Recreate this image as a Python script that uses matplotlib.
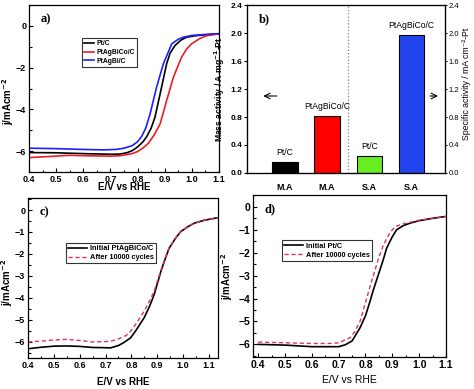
import matplotlib
matplotlib.use("Agg")
import matplotlib.pyplot as plt
from matplotlib.ticker import MultipleLocator

plt.rcParams['font.family'] = ['Liberation Sans', 'DejaVu Sans']
plt.rcParams['font.weight'] = 'bold'
plt.rcParams['axes.labelweight'] = 'bold'

# ---------------- data ----------------
# panel a
a_pt_x = [0.40, 0.50, 0.60, 0.70, 0.735, 0.76, 0.78, 0.80, 0.82, 0.834, 0.85, 0.864, 0.883, 0.907, 0.92, 0.938, 0.96, 0.981, 1.02, 1.06, 1.10]
a_pt_y = [-6.07, -6.08, -6.12, -6.15, -6.14, -6.08, -5.98, -5.80, -5.55, -5.30, -4.90, -4.38, -3.26, -1.82, -1.30, -0.94, -0.68, -0.54, -0.46, -0.42, -0.38]
a_co_x = [0.40, 0.50, 0.55, 0.60, 0.70, 0.735, 0.78, 0.80, 0.82, 0.84, 0.86, 0.883, 0.907, 0.932, 0.962, 0.98, 0.999, 1.03, 1.055, 1.08, 1.10]
a_co_y = [-6.31, -6.24, -6.20, -6.22, -6.24, -6.22, -6.12, -6.02, -5.85, -5.62, -5.25, -4.70, -3.58, -2.46, -1.50, -1.12, -0.86, -0.60, -0.47, -0.42, -0.38]
a_bi_x = [0.40, 0.50, 0.60, 0.674, 0.72, 0.75, 0.78, 0.80, 0.815, 0.83, 0.846, 0.87, 0.895, 0.926, 0.95, 0.969, 1.00, 1.05, 1.09, 1.10]
a_bi_y = [-5.86, -5.88, -5.92, -5.94, -5.92, -5.86, -5.74, -5.55, -5.30, -4.90, -4.22, -2.94, -1.82, -0.86, -0.64, -0.54, -0.46, -0.41, -0.38, -0.37]

# panel b
b_labels = ['M.A', 'M.A', 'S.A', 'S.A']
b_values = [0.16, 0.81, 0.24, 1.97]
b_names = ['Pt/C', 'PtAgBiCo/C', 'Pt/C', 'PtAgBiCo/C']
b_colors = ['#000000', '#ff0000', '#66ee22', '#2244ee']

# panel c
c_init_x = [0.40, 0.45, 0.50, 0.55, 0.60, 0.65, 0.70, 0.719, 0.75, 0.77, 0.797, 0.82, 0.849, 0.87, 0.888, 0.914, 0.93, 0.946, 0.97, 0.991, 1.02, 1.043, 1.08, 1.11, 1.135]
c_init_y = [-6.33, -6.26, -6.21, -6.20, -6.22, -6.27, -6.28, -6.29, -6.18, -6.05, -5.83, -5.45, -4.92, -4.40, -3.86, -2.80, -2.25, -1.74, -1.30, -0.98, -0.75, -0.60, -0.47, -0.40, -0.35]
c_aft_x = [0.40, 0.45, 0.50, 0.55, 0.60, 0.65, 0.70, 0.719, 0.75, 0.78, 0.797, 0.82, 0.849, 0.87, 0.888, 0.914, 0.93, 0.946, 0.97, 0.991, 1.02, 1.043, 1.08, 1.11, 1.135]
c_aft_y = [-6.02, -5.98, -5.93, -5.90, -5.95, -6.02, -6.00, -5.99, -5.88, -5.72, -5.53, -5.15, -4.62, -4.15, -3.70, -2.75, -2.22, -1.72, -1.29, -0.97, -0.75, -0.60, -0.47, -0.40, -0.35]

# panel d
d_init_x = [0.40, 0.50, 0.60, 0.668, 0.70, 0.724, 0.75, 0.78, 0.80, 0.817, 0.83, 0.848, 0.865, 0.879, 0.90, 0.916, 0.94, 0.966, 1.00, 1.05, 1.09, 1.10]
d_init_y = [-6.00, -6.03, -6.10, -6.10, -6.10, -6.02, -5.85, -5.27, -4.75, -4.12, -3.60, -2.96, -2.35, -1.80, -1.30, -1.00, -0.82, -0.71, -0.60, -0.50, -0.43, -0.42]
d_aft_x = [0.40, 0.50, 0.60, 0.668, 0.70, 0.743, 0.76, 0.78, 0.805, 0.82, 0.836, 0.85, 0.867, 0.89, 0.91, 0.94, 0.966, 1.00, 1.05, 1.10]
d_aft_y = [-5.90, -5.93, -5.96, -5.96, -5.93, -5.71, -5.45, -4.99, -3.97, -3.35, -2.74, -2.20, -1.65, -1.15, -0.86, -0.74, -0.67, -0.58, -0.49, -0.42]

# ---------------- layout ----------------
W, H = 474, 389
fig = plt.figure(figsize=(W / 100, H / 100), dpi=100)


def ax_px(l, r, t, b):
    return fig.add_axes([l / W, (H - b) / H, (r - l) / W, (b - t) / H])


FS = 6.5
XT = ['0.4', '0.5', '0.6', '0.7', '0.8', '0.9', '1.0', '1.1']
XV = [0.4, 0.5, 0.6, 0.7, 0.8, 0.9, 1.0, 1.1]
YLAB = 'j/mAcm$^{\\mathbf{-2}}$'


def style(ax):
    ax.tick_params(which='both', direction='in', labelsize=FS, width=0.8, pad=2)
    ax.tick_params(which='major', length=3)
    ax.tick_params(which='minor', length=1.8)
    for lab in ax.get_xticklabels() + ax.get_yticklabels():
        lab.set_fontweight('bold')
    for s in ax.spines.values():
        s.set_linewidth(0.9)


def panel_label(ax, t):
    ax.text(0.06, 0.95, t, transform=ax.transAxes, ha='left', va='top',
            fontsize=9, fontweight='bold', family=['Liberation Serif', 'DejaVu Serif'])


def make_legend(ax, anchor, hl, fs=5.3):
    leg = ax.legend(loc='upper left', bbox_to_anchor=anchor, fontsize=fs, frameon=True,
                    fancybox=False, edgecolor='black', handlelength=hl, handletextpad=0.3,
                    borderpad=0.3, labelspacing=0.25, borderaxespad=0)
    leg.get_frame().set_linewidth(0.8)
    for t in leg.get_texts():
        t.set_fontweight('bold')


# ---------- a ----------
ax = ax_px(29, 219, 5, 172)
ax.plot(a_pt_x, a_pt_y, color='black', lw=1.2, label='Pt/C')
ax.plot(a_co_x, a_co_y, color='#ee1c24', lw=1.2, label='PtAgBiCo/C')
ax.plot(a_bi_x, a_bi_y, color='#1f1fff', lw=1.2, label='PtAgBi/C')
ax.set_xlim(0.4, 1.1)
ax.set_ylim(-7, 1)
ax.set_xticks(XV)
ax.set_xticklabels(XT)
ax.xaxis.set_minor_locator(MultipleLocator(0.05))
ax.yaxis.set_major_locator(MultipleLocator(2))
ax.yaxis.set_minor_locator(MultipleLocator(1))
ax.set_xlabel('E/V vs RHE', fontsize=FS + 0.5, labelpad=-1)
ax.set_ylabel(YLAB, fontsize=FS + 0.5)
ax.yaxis.set_label_coords(-0.068, 0.42)
style(ax)
panel_label(ax, 'a)')
make_legend(ax, (0.28, 0.8), 1.5, fs=4.9)

# ---------- b ----------
ax = ax_px(247, 445, 5, 173)
pos = [1, 2, 3, 4]
ax.bar(pos, b_values, width=0.6, color=b_colors, edgecolor='black', linewidth=0.8)
for p, v, n in zip(pos, b_values, b_names):
    ax.text(p, v + 0.07, n, ha='center', va='bottom', fontsize=FS - 0.3, fontweight='normal')
ax.set_xlim(0.1, 4.8)
ax.set_ylim(0, 2.4)
ax.set_xticks(pos)
ax.set_xticklabels(b_labels)
ax.axvline(2.5, color='gray', ls=':', lw=0.9)
ax.set_yticks([0.0, 0.4, 0.8, 1.2, 1.6, 2.0, 2.4])
ax.tick_params(axis='y', direction='out', labelsize=FS - 0.5, length=2, pad=1.2)
ax.tick_params(axis='x', length=0, labelsize=FS, pad=7)
for lab in ax.get_xticklabels() + ax.get_yticklabels():
    lab.set_fontweight('bold')
ax.set_ylabel('Mass activity / A mg$^{\\mathbf{-1}}$-Pt', fontsize=FS - 0.3)
ax.yaxis.set_label_coords(-0.1, 0.5)
ax.annotate('', xy=(0.42, 1.1), xytext=(0.87, 1.1),
            arrowprops=dict(arrowstyle='->', color='black', lw=0.8))
ax.annotate('', xy=(4.7, 1.1), xytext=(4.38, 1.1),
            arrowprops=dict(arrowstyle='->', color='black', lw=0.8))
panel_label(ax, 'b)')
for s in ax.spines.values():
    s.set_linewidth(0.9)
ax2 = ax.twinx()
ax2.set_ylim(0, 2.4)
ax2.set_yticks([0.0, 0.4, 0.8, 1.2, 1.6, 2.0, 2.4])
ax2.tick_params(axis='y', direction='out', labelsize=FS - 1.0, length=1.5, pad=1)
for lab in ax2.get_yticklabels():
    lab.set_fontweight('normal')
ax2.set_ylabel('Specific activity / mA cm\u207b\u00b2-Pt', fontsize=FS - 0.2, fontweight='normal',
               family=['Liberation Sans', 'DejaVu Sans'])
ax2.yaxis.set_label_coords(1.088, 0.53)

# ---------- c ----------
ax = ax_px(28, 218, 198, 358)
ax.plot(c_init_x, c_init_y, color='black', lw=1.2, label='Initial PtAgBiCo/C')
ax.plot(c_aft_x, c_aft_y, color='#e0306a', lw=1.0, ls=(0, (3, 2)), label='After 10000 cycles')
ax.set_xlim(0.4, 1.135)
ax.set_ylim(-6.75, 0.55)
ax.set_xticks(XV)
ax.set_xticklabels(XT)
ax.xaxis.set_minor_locator(MultipleLocator(0.05))
ax.set_yticks([0, -1, -2, -3, -4, -5, -6])
ax.yaxis.set_minor_locator(MultipleLocator(0.5))
ax.set_xlabel('E/V vs RHE', fontsize=FS + 0.5, labelpad=5)
ax.set_ylabel(YLAB, fontsize=FS + 0.5)
ax.yaxis.set_label_coords(-0.066, 0.47)
style(ax)
panel_label(ax, 'c)')
make_legend(ax, (0.2, 0.72), 2.6)

# ---------- d ----------
ax = ax_px(253, 446, 195, 357)
ax.plot(d_init_x, d_init_y, color='black', lw=1.2, label='Initial Pt/C')
ax.plot(d_aft_x, d_aft_y, color='#e0306a', lw=1.0, ls=(0, (3, 2)), label='After 10000 cycles')
ax.set_xlim(0.381, 1.1)
ax.set_ylim(-6.55, 0.52)
ax.set_xticks(XV)
ax.set_xticklabels(XT)
ax.xaxis.set_minor_locator(MultipleLocator(0.05))
ax.set_yticks([0, -1, -2, -3, -4, -5, -6])
ax.yaxis.set_minor_locator(MultipleLocator(0.5))
ax.set_xlabel('E/V vs RHE', fontsize=FS + 1, labelpad=4, fontweight='normal')
ax.set_ylabel(YLAB, fontsize=FS + 0.5)
ax.yaxis.set_label_coords(-0.092, 0.5)
style(ax)
ax.tick_params(labelsize=FS + 1)
panel_label(ax, 'd)')
make_legend(ax, (0.15, 0.72), 2.6)

fig.savefig('out.png', dpi=100)
